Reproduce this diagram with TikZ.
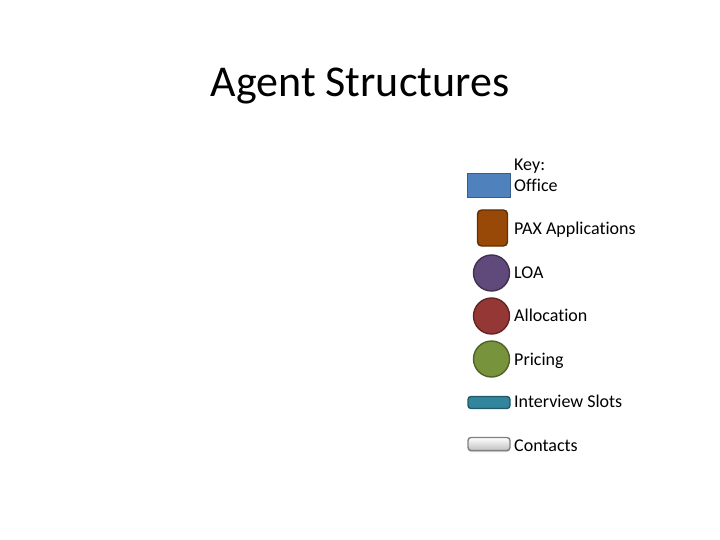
\documentclass[tikz,border=0pt]{standalone}
\usepackage{fontspec}
\setmainfont{Carlito}[Ligatures={NoCommon}]
\usetikzlibrary{shadows}

\definecolor{officeblue}{RGB}{79,129,189}
\definecolor{officeline}{RGB}{56,93,138}
\definecolor{paxbrown}{RGB}{152,72,7}
\definecolor{paxline}{RGB}{99,47,4}
\definecolor{loapurple}{RGB}{96,74,123}
\definecolor{loaline}{RGB}{63,49,81}
\definecolor{allocred}{RGB}{149,55,53}
\definecolor{allocline}{RGB}{99,37,35}
\definecolor{pricegreen}{RGB}{119,147,60}
\definecolor{priceline}{RGB}{79,98,40}
\definecolor{slotteal}{RGB}{49,133,156}
\definecolor{slotline}{RGB}{33,89,104}

\begin{document}
\begin{tikzpicture}[x=1pt,y=1pt,yscale=-1,xscale=1,
  keytext/.style={anchor=base west,inner sep=0pt,font=\fontsize{18}{22}\selectfont},
  swatch/.style={line width=1.4pt,inner sep=0pt}]
\useasboundingbox (0,0) rectangle (720,540);
% Title
\node (title) [anchor=base,inner sep=0pt,font=\fontsize{44}{53}\selectfont] at (360,97) {Agent Structures};
% Key shapes
\node (office) [swatch,draw=officeline,fill=officeblue,minimum width=43,minimum height=24] at (489,185.5) {};
\node (pax) [swatch,draw=paxline,fill=paxbrown,rounded corners=4pt,minimum width=30,minimum height=36] at (492.5,228) {};
\node (loa) [swatch,circle,draw=loaline,fill=loapurple,minimum size=36] at (491.5,273) {};
\node (alloc) [swatch,circle,draw=allocline,fill=allocred,minimum size=36] at (491.5,316) {};
\node (price) [swatch,circle,draw=priceline,fill=pricegreen,minimum size=36] at (491.5,359) {};
\node (slots) [swatch,draw=slotline,fill=slotteal,rounded corners=3pt,minimum width=42,minimum height=12] at (489,402.5) {};
\node (contacts) [swatch,draw=gray,top color=white,bottom color=black!25,rounded corners=3pt,minimum width=42,minimum height=13,drop shadow={shadow xshift=0pt,shadow yshift=-1.5pt,opacity=0.4}] at (489,444) {};
% Key labels
\node (keyhead) [keytext] at (514,171) {Key:};
\node (officetxt) [keytext] at (514,192) {Office};
\node (paxtxt) [keytext] at (514,235) {PAX Applications};
\node (loatxt) [keytext] at (514,278) {LOA};
\node (alloctxt) [keytext] at (514,321) {Allocation};
\node (pricetxt) [keytext] at (514,365) {Pricing};
\node (slotstxt) [keytext] at (514,407) {Interview Slots};
\node (contactstxt) [keytext] at (514,451) {Contacts};
\end{tikzpicture}
\end{document}
